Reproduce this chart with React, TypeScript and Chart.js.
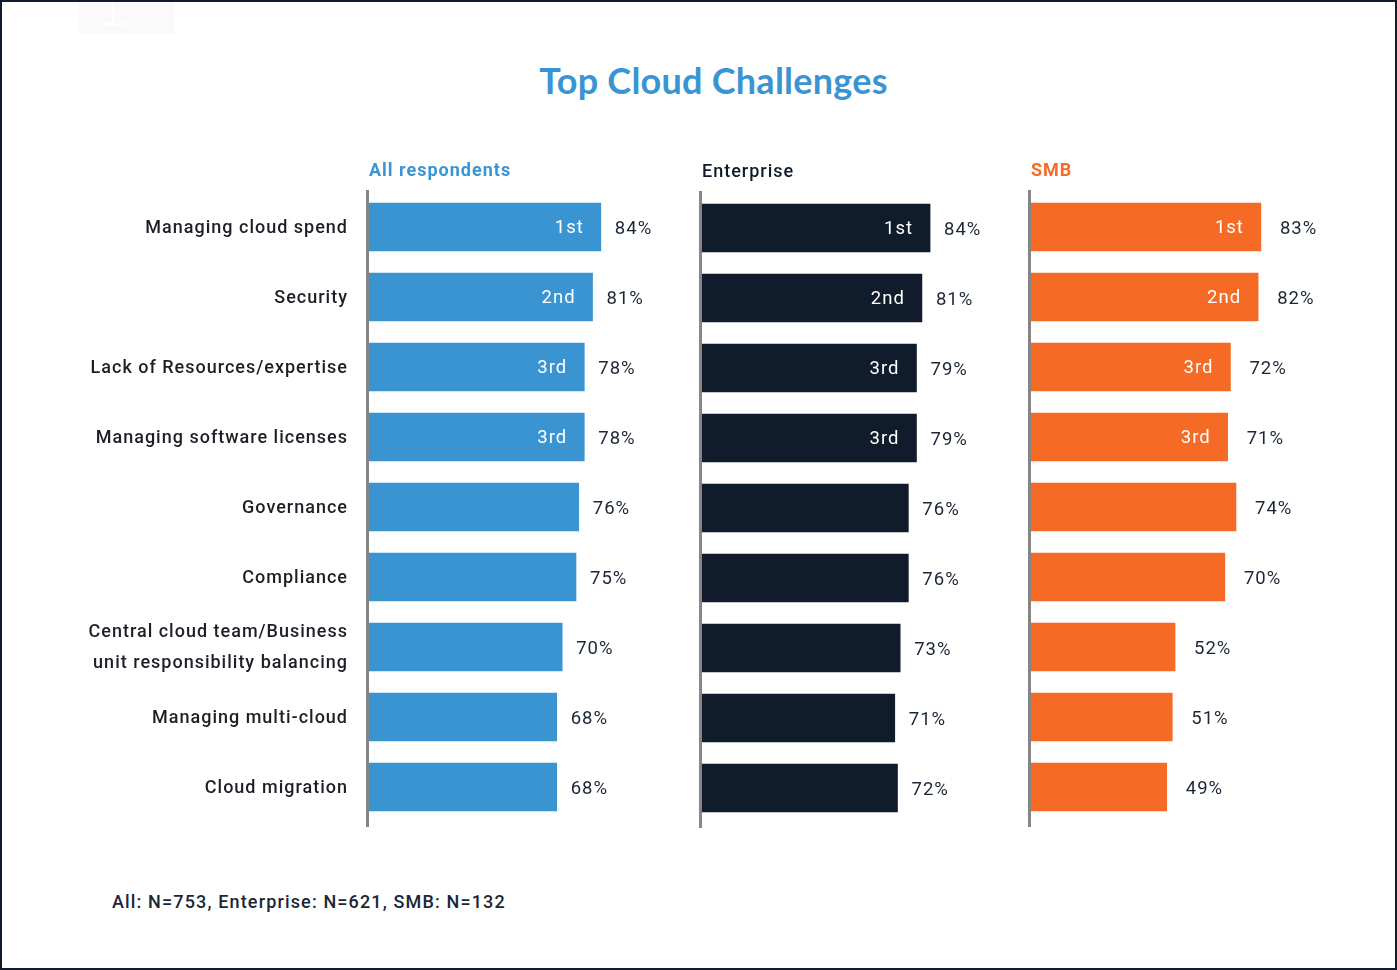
import { useEffect, useRef } from 'react'
import { Chart, registerables } from 'chart.js'

Chart.register(...registerables)

const categories = [
  'Managing cloud spend',
  'Security',
  'Lack of Resources/expertise',
  'Managing software licenses',
  'Governance',
  'Compliance',
  ['Central cloud team/Business', 'unit responsibility balancing'],
  'Managing multi-cloud',
  'Cloud migration',
]
const allValues = [84, 81, 78, 78, 76, 75, 70, 68, 68]
const enterpriseValues = [84, 81, 79, 79, 76, 76, 73, 71, 72]
const smbValues = [83, 82, 72, 71, 74, 70, 52, 51, 49]
const ranks = ['1st', '2nd', '3rd', '3rd']

const FONT = 'Roboto, sans-serif'
const NAVY = '#101c2c'

const spacing = '1px'

const panelLabels = {
  id: 'panelLabels',
  beforeLayout(chart: any) {
    chart.ctx.letterSpacing = spacing
  },
  beforeDraw(chart: any) {
    chart.ctx.letterSpacing = spacing
  },
  afterDatasetsDraw(chart: any, _args: any, opts: any) {
    const { ctx, chartArea } = chart
    const bars = chart.getDatasetMeta(0).data
    const values = chart.data.datasets[0].data
    ctx.save()
    ctx.letterSpacing = spacing
    // axis line runs a little past the plot area
    ctx.fillStyle = '#868686'
    ctx.fillRect(chartArea.left - 3, chartArea.top - 2, 3, chartArea.height + 7)
    ctx.font = `400 18.5px ${FONT}`
    ctx.textBaseline = 'middle'
    bars.forEach((bar: any, i: number) => {
      ctx.fillStyle = '#1c2636'
      ctx.textAlign = 'left'
      ctx.fillText(`${values[i]}%`, bar.x + opts.valuePad, bar.y + 2)
      if (ranks[i]) {
        ctx.fillStyle = '#ffffff'
        ctx.textAlign = 'right'
        ctx.fillText(ranks[i], bar.x - opts.rankPad, bar.y + 1)
      }
    })
    ctx.restore()
  },
}

type PanelProps = {
  title: string
  titleColor: string
  titleWeight: number
  values: number[]
  color: string
  left: number
  top: number
  width: number
  axisWidth: number
  plotWidth: number
  valuePad: number
  showLabels?: boolean
}

function Panel(props: PanelProps) {
  const canvasRef = useRef<HTMLCanvasElement>(null)

  useEffect(() => {
    const chart = new Chart(canvasRef.current as HTMLCanvasElement, {
      type: 'bar',
      plugins: [panelLabels],
      data: {
        labels: categories as any,
        datasets: [
          {
            data: props.values,
            backgroundColor: props.color,
            barThickness: 48,
          },
        ],
      },
      options: {
        indexAxis: 'y',
        animation: false,
        responsive: false,
        devicePixelRatio: 1,
        layout: {
          padding: {
            right: props.width - props.axisWidth - props.plotWidth,
            bottom: 23,
          },
        },
        scales: {
          x: { display: false, min: 0, max: 100 },
          y: {
            afterFit(scale: any) {
              scale.width = props.axisWidth
              // tall two-line label must not squeeze the plot area
              scale.paddingTop = 0
              scale.paddingBottom = 0
            },
            border: { display: false },
            grid: { display: false, drawTicks: false },
            ticks: {
              display: !!props.showLabels,
              padding: 21,
              labelOffset: 1,
              color: '#1c2026',
              autoSkip: false,
              font: { family: FONT, size: 18, weight: 500, lineHeight: 1.72 },
            },
          },
        },
        plugins: {
          legend: { display: false },
          tooltip: { enabled: false },
          title: {
            display: true,
            text: props.title,
            align: 'start',
            fullSize: false,
            color: props.titleColor,
            padding: { top: 6, bottom: 9.4 },
            font: { family: FONT, size: 18, weight: props.titleWeight, lineHeight: 1.2 },
          },
          panelLabels: { valuePad: props.valuePad, rankPad: 17 },
        } as any,
      },
    })
    return () => chart.destroy()
    // eslint-disable-next-line react-hooks/exhaustive-deps
  }, [])

  return (
    <canvas
      ref={canvasRef}
      width={props.width}
      height={690}
      style={{ position: 'absolute', left: props.left, top: props.top }}
    />
  )
}

export default function App() {
  useEffect(() => {
    document.body.style.margin = '0'
  }, [])

  return (
    <div
      style={{
        position: 'absolute',
        left: 0,
        top: 0,
        width: 1397,
        height: 970,
        boxSizing: 'border-box',
        border: `2px solid ${NAVY}`,
        background: '#fff',
        overflow: 'hidden',
      }}
    >
      <div style={{ position: 'absolute', left: 77, top: 0, width: 96, height: 32, background: '#fafafa' }} />
      <div style={{ position: 'absolute', left: 110, top: 0, width: 2, height: 22, background: '#fff' }} />
      <div style={{ position: 'absolute', left: 97, top: 21, width: 28, height: 2, background: '#fff' }} />
      <div
        style={{
          position: 'absolute',
          left: 0,
          top: 56,
          width: 1423,
          textAlign: 'center',
          font: `700 36px/44px Lato, sans-serif`,
          letterSpacing: 0.25,
          color: '#3b94d2',
          whiteSpace: 'nowrap',
        }}
      >
        Top Cloud Challenges
      </div>
      <div style={{ position: 'absolute', left: -2, top: -2 }}>
        <Panel
          title="All respondents"
          titleColor="#3b94d2"
          titleWeight={700}
          values={allValues}
          color="#3b94d2"
          left={-2}
          top={155}
          width={692}
          axisWidth={371}
          plotWidth={276}
          valuePad={14}
          showLabels
        />
        <Panel
          title="Enterprise"
          titleColor={NAVY}
          titleWeight={500}
          values={enterpriseValues}
          color={NAVY}
          left={690}
          top={156}
          width={330}
          axisWidth={12}
          plotWidth={271.5}
          valuePad={14}
        />
        <Panel
          title="SMB"
          titleColor="#f56b25"
          titleWeight={700}
          values={smbValues}
          color="#f56b25"
          left={1020}
          top={155}
          width={370}
          axisWidth={11}
          plotWidth={277}
          valuePad={19}
        />
      </div>
      <div
        style={{
          position: 'absolute',
          left: 110,
          top: 888,
          font: `500 18px/24px ${FONT}`,
          letterSpacing: 1.15,
          color: '#1c2636',
          whiteSpace: 'nowrap',
        }}
      >
        All: N=753, Enterprise: N=621, SMB: N=132
      </div>
    </div>
  )
}
